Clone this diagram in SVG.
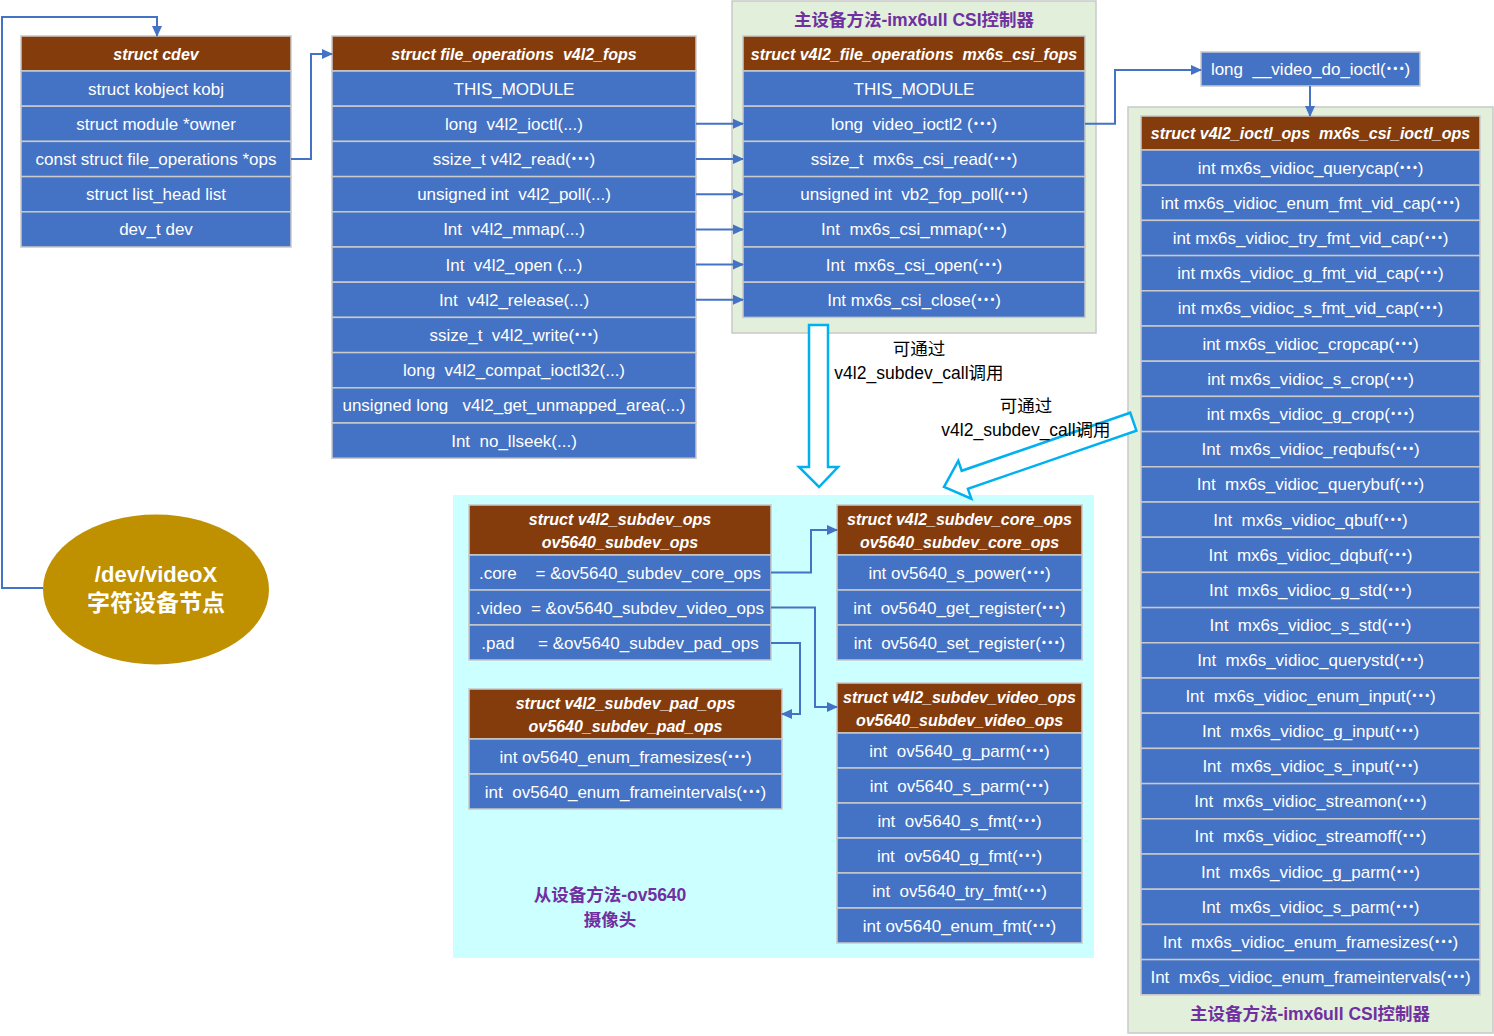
<svg xmlns="http://www.w3.org/2000/svg" width="1494" height="1036" viewBox="0 0 1494 1036">
<defs>
<style>
text{font-family:"Liberation Sans","Noto Sans CJK SC",sans-serif;white-space:pre}
.e{font-family:"Noto Sans CJK SC",sans-serif;font-weight:bold;baseline-shift:5px}
.hdr{fill:#843C0C;stroke:#C9C9C9;stroke-width:1.5}
.cell{fill:#4472C4;stroke:#C9C9C9;stroke-width:1.5}
.ht{fill:#fff;font-size:16px;font-weight:bold;font-style:italic;text-anchor:middle}
.ct{fill:#fff;font-size:17px;text-anchor:middle}
.title{fill:#7030A0;font-size:17.5px;font-weight:bold;text-anchor:middle}
.lbl{fill:#000;font-size:17.5px;text-anchor:middle}
.conn{fill:none;stroke:#4472C4;stroke-width:2}
.big{fill:#fff;stroke:#00B0F0;stroke-width:2.5}
.grp{fill:#E2EFDA;stroke:#C9C9C9;stroke-width:1.5}
</style>
<marker id="ah" markerWidth="12" markerHeight="12" refX="10" refY="6" orient="auto" markerUnits="userSpaceOnUse">
<path d="M0,1 L11,6 L0,11 Z" fill="#4472C4"/>
</marker>
</defs>
<rect width="1494" height="1036" fill="#fff"/>

<!-- containers -->
<g id="csi-fops-group">
<rect class="grp" x="732" y="1" width="364" height="332"/>
<text class="title" x="914" y="26">主设备方法-imx6ull CSI控制器</text>
</g>
<g id="csi-ioctl-group">
<rect class="grp" x="1128" y="107" width="365" height="926"/>
<text class="title" x="1310" y="1020">主设备方法-imx6ull CSI控制器</text>
</g>
<g id="ov5640-group">
<rect x="453" y="495" width="641" height="463" fill="#CCFFFF"/>
<text class="title" x="610" y="901">从设备方法-ov5640</text>
<text class="title" x="610" y="926">摄像头</text>
</g>

<!-- cdev -->
<g id="cdev">
<rect class="hdr" x="21" y="36" width="270" height="35"/>
<text class="ht" x="156" y="59.5">struct cdev</text>
<rect class="cell" x="21" y="71" width="270" height="35.2"/>
<rect class="cell" x="21" y="106.2" width="270" height="35.2"/>
<rect class="cell" x="21" y="141.4" width="270" height="35.2"/>
<rect class="cell" x="21" y="176.6" width="270" height="35.2"/>
<rect class="cell" x="21" y="211.8" width="270" height="35.2"/>
<text class="ct" x="156" y="94.6">struct kobject kobj</text>
<text class="ct" x="156" y="129.8">struct module *owner</text>
<text class="ct" x="156" y="165">const struct file_operations *ops</text>
<text class="ct" x="156" y="200.2">struct list_head list</text>
<text class="ct" x="156" y="235.4">dev_t dev</text>
</g>

<!-- file operations -->
<g id="v4l2-fops">
<rect class="hdr" x="332" y="36" width="364" height="35"/>
<text class="ht" x="514" y="59.5">struct file_operations  v4l2_fops</text>
<rect class="cell" x="332" y="71" width="364" height="35.2"/>
<rect class="cell" x="332" y="106.2" width="364" height="35.2"/>
<rect class="cell" x="332" y="141.4" width="364" height="35.2"/>
<rect class="cell" x="332" y="176.6" width="364" height="35.2"/>
<rect class="cell" x="332" y="211.8" width="364" height="35.2"/>
<rect class="cell" x="332" y="247" width="364" height="35.2"/>
<rect class="cell" x="332" y="282.2" width="364" height="35.2"/>
<rect class="cell" x="332" y="317.4" width="364" height="35.2"/>
<rect class="cell" x="332" y="352.6" width="364" height="35.2"/>
<rect class="cell" x="332" y="387.8" width="364" height="35.2"/>
<rect class="cell" x="332" y="423" width="364" height="35.2"/>
<text class="ct" x="514" y="94.6">THIS_MODULE</text>
<text class="ct" x="514" y="129.8">long  v4l2_ioctl(...)</text>
<text class="ct" x="514" y="165">ssize_t v4l2_read(<tspan class="e">…</tspan>)</text>
<text class="ct" x="514" y="200.2">unsigned int  v4l2_poll(...)</text>
<text class="ct" x="514" y="235.4">Int  v4l2_mmap(...)</text>
<text class="ct" x="514" y="270.6">Int  v4l2_open (...)</text>
<text class="ct" x="514" y="305.8">Int  v4l2_release(...)</text>
<text class="ct" x="514" y="341">ssize_t  v4l2_write(<tspan class="e">…</tspan>)</text>
<text class="ct" x="514" y="376.2">long  v4l2_compat_ioctl32(...)</text>
<text class="ct" x="514" y="411.4">unsigned long   v4l2_get_unmapped_area(...)</text>
<text class="ct" x="514" y="446.6">Int  no_llseek(...)</text>
</g>

<!-- mx6s csi fops -->
<g id="mx6s-csi-fops">
<rect class="hdr" x="743" y="36" width="342" height="35"/>
<text class="ht" x="914" y="59.5">struct v4l2_file_operations  mx6s_csi_fops</text>
<rect class="cell" x="743" y="71" width="342" height="35.2"/>
<rect class="cell" x="743" y="106.2" width="342" height="35.2"/>
<rect class="cell" x="743" y="141.4" width="342" height="35.2"/>
<rect class="cell" x="743" y="176.6" width="342" height="35.2"/>
<rect class="cell" x="743" y="211.8" width="342" height="35.2"/>
<rect class="cell" x="743" y="247" width="342" height="35.2"/>
<rect class="cell" x="743" y="282.2" width="342" height="35.2"/>
<text class="ct" x="914" y="94.6">THIS_MODULE</text>
<text class="ct" x="914" y="129.8">long  video_ioctl2 (<tspan class="e">…</tspan>)</text>
<text class="ct" x="914" y="165">ssize_t  mx6s_csi_read(<tspan class="e">…</tspan>)</text>
<text class="ct" x="914" y="200.2">unsigned int  vb2_fop_poll(<tspan class="e">…</tspan>)</text>
<text class="ct" x="914" y="235.4">Int  mx6s_csi_mmap(<tspan class="e">…</tspan>)</text>
<text class="ct" x="914" y="270.6">Int  mx6s_csi_open(<tspan class="e">…</tspan>)</text>
<text class="ct" x="914" y="305.8">Int mx6s_csi_close(<tspan class="e">…</tspan>)</text>
</g>

<!-- video do ioctl -->
<g id="video-do-ioctl">
<rect class="cell" x="1201" y="52" width="219" height="34"/>
<text class="ct" x="1310.5" y="75">long  __video_do_ioctl(<tspan class="e">…</tspan>)</text>
</g>

<!-- ioctl ops -->
<g id="mx6s-csi-ioctl-ops">
<rect class="hdr" x="1141" y="116" width="339" height="34"/>
<text class="ht" x="1310.5" y="139">struct v4l2_ioctl_ops  mx6s_csi_ioctl_ops</text>
<rect class="cell" x="1141" y="150" width="339" height="35.2"/>
<rect class="cell" x="1141" y="185.2" width="339" height="35.2"/>
<rect class="cell" x="1141" y="220.4" width="339" height="35.2"/>
<rect class="cell" x="1141" y="255.6" width="339" height="35.2"/>
<rect class="cell" x="1141" y="290.8" width="339" height="35.2"/>
<rect class="cell" x="1141" y="326" width="339" height="35.2"/>
<rect class="cell" x="1141" y="361.2" width="339" height="35.2"/>
<rect class="cell" x="1141" y="396.4" width="339" height="35.2"/>
<rect class="cell" x="1141" y="431.6" width="339" height="35.2"/>
<rect class="cell" x="1141" y="466.8" width="339" height="35.2"/>
<rect class="cell" x="1141" y="502" width="339" height="35.2"/>
<rect class="cell" x="1141" y="537.2" width="339" height="35.2"/>
<rect class="cell" x="1141" y="572.4" width="339" height="35.2"/>
<rect class="cell" x="1141" y="607.6" width="339" height="35.2"/>
<rect class="cell" x="1141" y="642.8" width="339" height="35.2"/>
<rect class="cell" x="1141" y="678" width="339" height="35.2"/>
<rect class="cell" x="1141" y="713.2" width="339" height="35.2"/>
<rect class="cell" x="1141" y="748.4" width="339" height="35.2"/>
<rect class="cell" x="1141" y="783.6" width="339" height="35.2"/>
<rect class="cell" x="1141" y="818.8" width="339" height="35.2"/>
<rect class="cell" x="1141" y="854" width="339" height="35.2"/>
<rect class="cell" x="1141" y="889.2" width="339" height="35.2"/>
<rect class="cell" x="1141" y="924.4" width="339" height="35.2"/>
<rect class="cell" x="1141" y="959.6" width="339" height="35.2"/>
<text class="ct" x="1310.5" y="173.6">int mx6s_vidioc_querycap(<tspan class="e">…</tspan>)</text>
<text class="ct" x="1310.5" y="208.8">int mx6s_vidioc_enum_fmt_vid_cap(<tspan class="e">…</tspan>)</text>
<text class="ct" x="1310.5" y="244">int mx6s_vidioc_try_fmt_vid_cap(<tspan class="e">…</tspan>)</text>
<text class="ct" x="1310.5" y="279.2">int mx6s_vidioc_g_fmt_vid_cap(<tspan class="e">…</tspan>)</text>
<text class="ct" x="1310.5" y="314.4">int mx6s_vidioc_s_fmt_vid_cap(<tspan class="e">…</tspan>)</text>
<text class="ct" x="1310.5" y="349.6">int mx6s_vidioc_cropcap(<tspan class="e">…</tspan>)</text>
<text class="ct" x="1310.5" y="384.8">int mx6s_vidioc_s_crop(<tspan class="e">…</tspan>)</text>
<text class="ct" x="1310.5" y="420">int mx6s_vidioc_g_crop(<tspan class="e">…</tspan>)</text>
<text class="ct" x="1310.5" y="455.2">Int  mx6s_vidioc_reqbufs(<tspan class="e">…</tspan>)</text>
<text class="ct" x="1310.5" y="490.4">Int  mx6s_vidioc_querybuf(<tspan class="e">…</tspan>)</text>
<text class="ct" x="1310.5" y="525.6">Int  mx6s_vidioc_qbuf(<tspan class="e">…</tspan>)</text>
<text class="ct" x="1310.5" y="560.8">Int  mx6s_vidioc_dqbuf(<tspan class="e">…</tspan>)</text>
<text class="ct" x="1310.5" y="596">Int  mx6s_vidioc_g_std(<tspan class="e">…</tspan>)</text>
<text class="ct" x="1310.5" y="631.2">Int  mx6s_vidioc_s_std(<tspan class="e">…</tspan>)</text>
<text class="ct" x="1310.5" y="666.4">Int  mx6s_vidioc_querystd(<tspan class="e">…</tspan>)</text>
<text class="ct" x="1310.5" y="701.6">Int  mx6s_vidioc_enum_input(<tspan class="e">…</tspan>)</text>
<text class="ct" x="1310.5" y="736.8">Int  mx6s_vidioc_g_input(<tspan class="e">…</tspan>)</text>
<text class="ct" x="1310.5" y="772">Int  mx6s_vidioc_s_input(<tspan class="e">…</tspan>)</text>
<text class="ct" x="1310.5" y="807.2">Int  mx6s_vidioc_streamon(<tspan class="e">…</tspan>)</text>
<text class="ct" x="1310.5" y="842.4">Int  mx6s_vidioc_streamoff(<tspan class="e">…</tspan>)</text>
<text class="ct" x="1310.5" y="877.6">Int  mx6s_vidioc_g_parm(<tspan class="e">…</tspan>)</text>
<text class="ct" x="1310.5" y="912.8">Int  mx6s_vidioc_s_parm(<tspan class="e">…</tspan>)</text>
<text class="ct" x="1310.5" y="948">Int  mx6s_vidioc_enum_framesizes(<tspan class="e">…</tspan>)</text>
<text class="ct" x="1310.5" y="983.2">Int  mx6s_vidioc_enum_frameintervals(<tspan class="e">…</tspan>)</text>
</g>

<!-- ov5640 subdev ops -->
<g id="ov5640-subdev-ops">
<rect class="hdr" x="469" y="505" width="302" height="50"/>
<text class="ht" x="620" y="524.5">struct v4l2_subdev_ops</text>
<text class="ht" x="620" y="547.5">ov5640_subdev_ops</text>
<rect class="cell" x="469" y="555" width="302" height="35"/>
<rect class="cell" x="469" y="590" width="302" height="35"/>
<rect class="cell" x="469" y="625" width="302" height="35"/>
<text class="ct" x="620" y="578.5">.core    = &amp;ov5640_subdev_core_ops</text>
<text class="ct" x="620" y="613.5">.video  = &amp;ov5640_subdev_video_ops</text>
<text class="ct" x="620" y="648.5">.pad     = &amp;ov5640_subdev_pad_ops</text>
</g>

<g id="ov5640-subdev-pad-ops">
<rect class="hdr" x="469" y="689" width="313" height="50"/>
<text class="ht" x="625.5" y="708.5">struct v4l2_subdev_pad_ops</text>
<text class="ht" x="625.5" y="731.5">ov5640_subdev_pad_ops</text>
<rect class="cell" x="469" y="739" width="313" height="35"/>
<rect class="cell" x="469" y="774" width="313" height="35"/>
<text class="ct" x="625.5" y="762.5">int ov5640_enum_framesizes(<tspan class="e">…</tspan>)</text>
<text class="ct" x="625.5" y="797.5">int  ov5640_enum_frameintervals(<tspan class="e">…</tspan>)</text>
</g>

<g id="ov5640-subdev-core-ops">
<rect class="hdr" x="837" y="505" width="245" height="50"/>
<text class="ht" x="959.5" y="524.5">struct v4l2_subdev_core_ops</text>
<text class="ht" x="959.5" y="547.5">ov5640_subdev_core_ops</text>
<rect class="cell" x="837" y="555" width="245" height="35"/>
<rect class="cell" x="837" y="590" width="245" height="35"/>
<rect class="cell" x="837" y="625" width="245" height="35"/>
<text class="ct" x="959.5" y="578.5">int ov5640_s_power(<tspan class="e">…</tspan>)</text>
<text class="ct" x="959.5" y="613.5">int  ov5640_get_register(<tspan class="e">…</tspan>)</text>
<text class="ct" x="959.5" y="648.5">int  ov5640_set_register(<tspan class="e">…</tspan>)</text>
</g>

<g id="ov5640-subdev-video-ops">
<rect class="hdr" x="837" y="683" width="245" height="50"/>
<text class="ht" x="959.5" y="702.5">struct v4l2_subdev_video_ops</text>
<text class="ht" x="959.5" y="725.5">ov5640_subdev_video_ops</text>
<rect class="cell" x="837" y="733" width="245" height="35"/>
<rect class="cell" x="837" y="768" width="245" height="35"/>
<rect class="cell" x="837" y="803" width="245" height="35"/>
<rect class="cell" x="837" y="838" width="245" height="35"/>
<rect class="cell" x="837" y="873" width="245" height="35"/>
<rect class="cell" x="837" y="908" width="245" height="35"/>
<text class="ct" x="959.5" y="756.5">int  ov5640_g_parm(<tspan class="e">…</tspan>)</text>
<text class="ct" x="959.5" y="791.5">int  ov5640_s_parm(<tspan class="e">…</tspan>)</text>
<text class="ct" x="959.5" y="826.5">int  ov5640_s_fmt(<tspan class="e">…</tspan>)</text>
<text class="ct" x="959.5" y="861.5">int  ov5640_g_fmt(<tspan class="e">…</tspan>)</text>
<text class="ct" x="959.5" y="896.5">int  ov5640_try_fmt(<tspan class="e">…</tspan>)</text>
<text class="ct" x="959.5" y="931.5">int ov5640_enum_fmt(<tspan class="e">…</tspan>)</text>
</g>

<!-- dev node -->
<g id="dev-videoX">
<ellipse cx="156" cy="589.5" rx="113" ry="75" fill="#BF9000"/>
<text x="156" y="582" fill="#fff" font-size="22" font-weight="bold" text-anchor="middle">/dev/videoX</text>
<text x="156" y="611" fill="#fff" font-size="23" font-weight="bold" text-anchor="middle">字符设备节点</text>
</g>

<!-- connectors -->
<g id="connectors">
<path class="conn" marker-end="url(#ah)" d="M43,588 H2 V17 H157 V36"/>
<path class="conn" marker-end="url(#ah)" d="M291,159 H311 V54 H332"/>
<path class="conn" marker-end="url(#ah)" d="M696,123.8 H743"/>
<path class="conn" marker-end="url(#ah)" d="M696,159 H743"/>
<path class="conn" marker-end="url(#ah)" d="M696,194.2 H743"/>
<path class="conn" marker-end="url(#ah)" d="M696,229.4 H743"/>
<path class="conn" marker-end="url(#ah)" d="M696,264.6 H743"/>
<path class="conn" marker-end="url(#ah)" d="M696,299.8 H743"/>
<path class="conn" marker-end="url(#ah)" d="M1085,123.8 H1115 V70 H1201"/>
<path class="conn" marker-end="url(#ah)" d="M1310,86 V116"/>
<path class="conn" marker-end="url(#ah)" d="M771,572.5 H811 V530 H837"/>
<path class="conn" marker-end="url(#ah)" d="M771,607.5 H815 V707 H837"/>
<path class="conn" marker-end="url(#ah)" d="M771,643 H800 V714 H782"/>
<polygon class="big" points="809,325 828,325 828,467 838,467 819,487 799,467 809,467"/>
<polygon class="big" points="1130.2,412.7 961.7,470.8 958.3,460.9 944,487 971.3,498.7 967.9,488.8 1136.4,430.7"/>
<text class="lbl" x="919" y="355">可通过</text>
<text class="lbl" x="919" y="379">v4l2_subdev_call调用</text>
<text class="lbl" x="1026" y="412">可通过</text>
<text class="lbl" x="1026" y="436">v4l2_subdev_call调用</text>
</g>
</svg>
